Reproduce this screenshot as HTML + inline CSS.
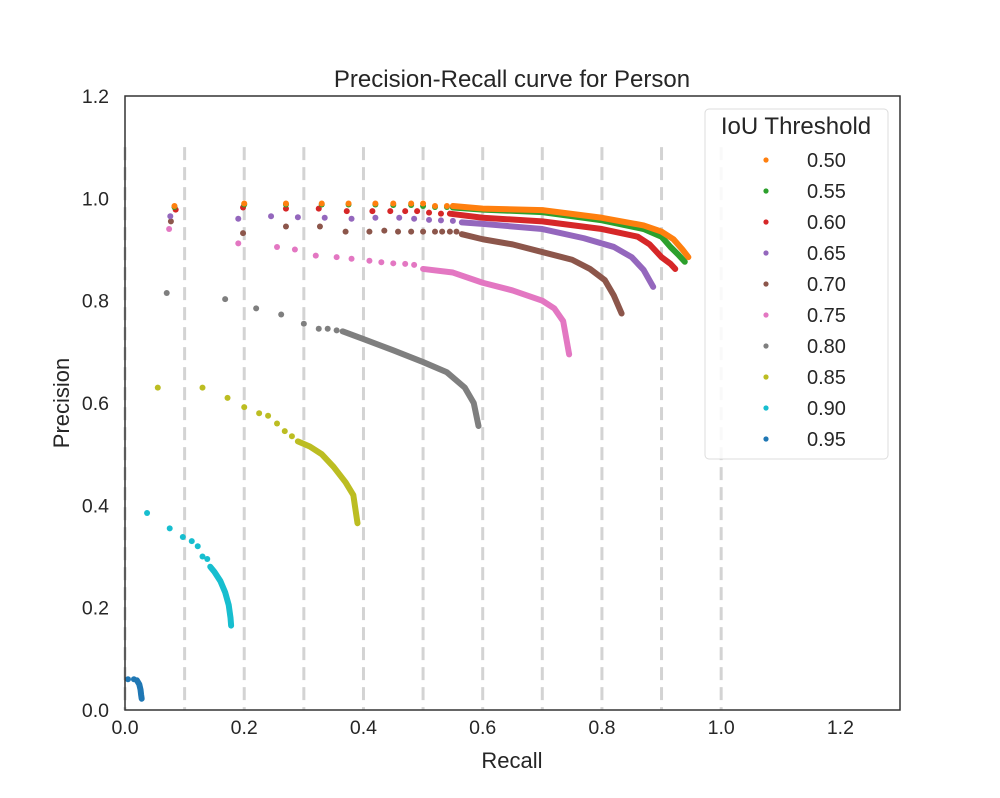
<!DOCTYPE html>
<html><head><meta charset="utf-8"><style>
body{margin:0;background:#fff;}
svg{display:block;font-family:"Liberation Sans","DejaVu Sans",sans-serif;}
</style></head><body>
<svg id="chart" width="1000" height="798" viewBox="0 0 1000 798">
<rect width="1000" height="798" fill="#fff"/>
<text x="512" y="87" font-size="24" text-anchor="middle" fill="#262626">Precision-Recall curve for Person</text>
<g id="grid"></g>
<g id="series"></g>
<g id="axes"></g>
<text x="512" y="768" font-size="22" text-anchor="middle" fill="#262626">Recall</text>
<text x="0" y="0" font-size="22" text-anchor="middle" fill="#262626" transform="translate(69,403) rotate(-90)">Precision</text>
<g id="legend"></g>
</svg>
<script>
const xTicks=[0,0.2,0.4,0.6,0.8,1.0,1.2];
const xTickLabels=["0.0","0.2","0.4","0.6","0.8","1.0","1.2"];
const yTicks=[0,0.2,0.4,0.6,0.8,1.0,1.2];
const yTickLabels=["0.0","0.2","0.4","0.6","0.8","1.0","1.2"];
const dashedLines=[0,0.1,0.2,0.3,0.4,0.5,0.6,0.7,0.8,0.9,1.0];
const thresholds=["0.50","0.55","0.60","0.65","0.70","0.75","0.80","0.85","0.90","0.95"];
const colors=["#ff7f0e","#2ca02c","#d62728","#9467bd","#8c564b","#e377c2","#7f7f7f","#bcbd22","#17becf","#1f77b4"];
const sparse50=[[0.083,0.985],[0.2,0.99],[0.27,0.99],[0.33,0.99],[0.375,0.99],[0.42,0.99],[0.45,0.99],[0.48,0.99],[0.5,0.99],[0.52,0.985],[0.54,0.985]];
const dense50=[[0.55,0.985],[0.6,0.98],[0.7,0.977],[0.8,0.962],[0.87,0.947],[0.9,0.935],[0.92,0.92],[0.935,0.9],[0.945,0.885]];
const sparse55=[[0.083,0.983],[0.2,0.988],[0.27,0.988],[0.33,0.988],[0.375,0.988],[0.42,0.988],[0.45,0.987],[0.48,0.987],[0.5,0.985],[0.52,0.983],[0.54,0.983]];
const dense55=[[0.55,0.982],[0.6,0.978],[0.7,0.973],[0.8,0.957],[0.87,0.94],[0.9,0.925],[0.915,0.905],[0.928,0.89],[0.939,0.876]];
const sparse60=[[0.085,0.978],[0.198,0.982],[0.27,0.98],[0.325,0.98],[0.372,0.975],[0.415,0.975],[0.445,0.975],[0.47,0.975],[0.49,0.975],[0.51,0.972],[0.53,0.97]];
const dense60=[[0.545,0.97],[0.6,0.962],[0.7,0.955],[0.8,0.94],[0.86,0.925],[0.88,0.91],[0.9,0.885],[0.915,0.872],[0.923,0.862]];
const sparse65=[[0.076,0.965],[0.19,0.96],[0.245,0.965],[0.29,0.963],[0.335,0.962],[0.38,0.96],[0.42,0.962],[0.46,0.962],[0.485,0.96],[0.51,0.958],[0.53,0.957],[0.55,0.956]];
const dense65=[[0.565,0.953],[0.6,0.95],[0.7,0.94],[0.77,0.922],[0.82,0.905],[0.85,0.885],[0.87,0.86],[0.886,0.827]];
const sparse70=[[0.077,0.955],[0.198,0.932],[0.27,0.945],[0.327,0.945],[0.37,0.935],[0.41,0.935],[0.435,0.937],[0.458,0.935],[0.48,0.935],[0.5,0.935],[0.52,0.935],[0.532,0.935],[0.545,0.935],[0.556,0.935]];
const dense70=[[0.565,0.93],[0.6,0.92],[0.65,0.91],[0.7,0.895],[0.75,0.88],[0.78,0.862],[0.805,0.84],[0.82,0.81],[0.833,0.775]];
const sparse75=[[0.074,0.94],[0.19,0.912],[0.255,0.905],[0.285,0.9],[0.32,0.888],[0.355,0.885],[0.38,0.882],[0.41,0.878],[0.43,0.875],[0.45,0.873],[0.47,0.872],[0.485,0.87]];
const dense75=[[0.5,0.862],[0.55,0.855],[0.6,0.835],[0.65,0.82],[0.7,0.8],[0.72,0.785],[0.735,0.76],[0.745,0.695]];
const sparse80=[[0.07,0.815],[0.168,0.803],[0.22,0.785],[0.262,0.773],[0.3,0.755],[0.325,0.745],[0.34,0.745],[0.355,0.742]];
const dense80=[[0.365,0.74],[0.4,0.725],[0.45,0.703],[0.5,0.68],[0.54,0.66],[0.57,0.63],[0.585,0.6],[0.593,0.555]];
const sparse85=[[0.055,0.63],[0.13,0.63],[0.172,0.61],[0.2,0.592],[0.225,0.58],[0.24,0.575],[0.255,0.56],[0.268,0.545],[0.28,0.535]];
const dense85=[[0.29,0.525],[0.31,0.515],[0.33,0.5],[0.35,0.475],[0.37,0.445],[0.383,0.42],[0.39,0.365]];
const sparse90=[[0.037,0.385],[0.075,0.355],[0.097,0.338],[0.112,0.33],[0.122,0.32],[0.13,0.3],[0.138,0.295]];
const dense90=[[0.143,0.28],[0.15,0.27],[0.16,0.252],[0.168,0.23],[0.174,0.205],[0.177,0.18],[0.178,0.165]];
const sparse95=[[0.005,0.06],[0.015,0.06]];
const dense95=[[0.02,0.058],[0.024,0.05],[0.026,0.04],[0.027,0.03],[0.028,0.022]];
const sparseSets=[sparse50,sparse55,sparse60,sparse65,sparse70,sparse75,sparse80,sparse85,sparse90,sparse95];
const denseSets=[dense50,dense55,dense60,dense65,dense70,dense75,dense80,dense85,dense90,dense95];

const NS="http://www.w3.org/2000/svg";
const X0=125,X1=900,Y0=710,Y1=96;
const xs=v=>X0+(v/1.3)*(X1-X0);
const ys=v=>Y0-(v/1.2)*(Y0-Y1);
function mk(tag,attrs,parent){const e=document.createElementNS(NS,tag);for(const k in attrs)e.setAttribute(k,attrs[k]);parent.appendChild(e);return e;}
const grid=document.getElementById('grid'),ser=document.getElementById('series'),ax=document.getElementById('axes'),leg=document.getElementById('legend');
dashedLines.forEach(v=>{
  const l=mk('line',{x1:xs(v),x2:xs(v),y1:ys(1.1),y2:Y0,stroke:'#d3d3d3','stroke-width':3,'stroke-dasharray':'13,7'},grid);
  
  
});
for(let i=thresholds.length-1;i>=0;i--){
  const g=mk('g',{},ser);
  
  
  const d=denseSets[i];
  const pl=mk('polyline',{points:d.map(p=>xs(p[0])+','+ys(p[1])).join(' '),fill:'none',stroke:colors[i],'stroke-width':6,'stroke-linejoin':'round','stroke-linecap':'round'},g);
  
  
  sparseSets[i].forEach(p=>{
    const c=mk('circle',{cx:xs(p[0]),cy:ys(p[1]),r:3,fill:colors[i]},g);
    
    
  });
}
const frame=mk('rect',{x:X0,y:Y1,width:X1-X0,height:Y0-Y1,fill:'none',stroke:'#333','stroke-width':1.5},ax);


xTicks.forEach((v,i)=>{
  const t=mk('text',{x:xs(v),y:734,'font-size':19.5,'text-anchor':'middle',fill:'#262626'},ax);
  t.textContent=xTickLabels[i];
  
  
});
yTicks.forEach((v,i)=>{
  const t=mk('text',{x:109,y:ys(v)+7,'font-size':19.5,'text-anchor':'end',fill:'#262626'},ax);
  t.textContent=yTickLabels[i];
  
  
});
const lb=mk('rect',{x:705,y:109,width:183,height:350,rx:4,fill:'#fff','fill-opacity':0.85,stroke:'#dcdcdc','stroke-width':1},leg);


const lt=mk('text',{x:796,y:134,'font-size':24,'text-anchor':'middle',fill:'#262626'},leg);
lt.textContent='IoU Threshold';


thresholds.forEach((th,i)=>{
  const y=160+i*31;
  const g=mk('g',{},leg);
  
  
  mk('circle',{cx:766,cy:y,r:2.6,fill:colors[i]},g);
  const t=mk('text',{x:807,y:y+7,'font-size':20,fill:'#262626'},g);
  t.textContent=th;
});
</script>
</body></html>
